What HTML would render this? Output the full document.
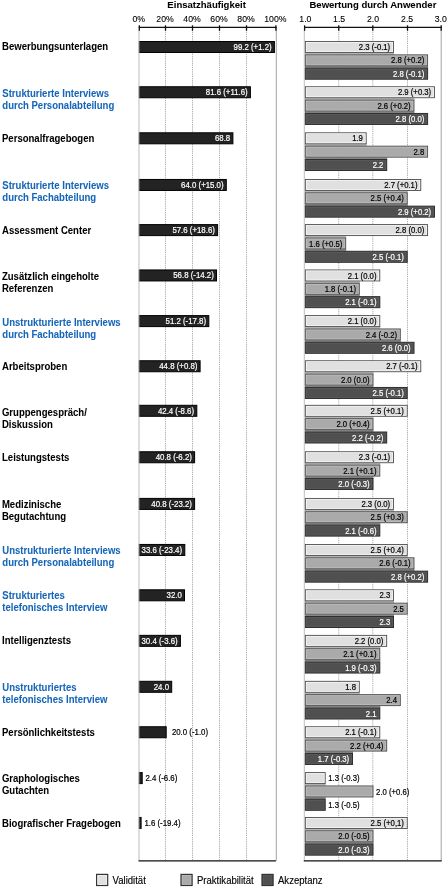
<!DOCTYPE html>
<html lang="de"><head><meta charset="utf-8"><title>Einsatzhäufigkeit und Bewertung</title>
<style>
html,body{margin:0;padding:0;background:#fff}
body{width:448px;height:888px;overflow:hidden}
svg{display:block}
text{font-family:"Liberation Sans",sans-serif}
.t{font-size:10px;font-weight:bold;fill:#000;stroke:#000;stroke-width:.04}
.b{fill:#1566b8;stroke:#1566b8}
.k{font-size:8.7px;fill:#000;stroke:#000;stroke-width:.1}
.v{font-size:9px;fill:#000;stroke:#000;stroke-width:.22}
.w{fill:#fff;stroke:#fff}
.lg{font-size:10.5px;fill:#000;stroke:#000;stroke-width:.15}
.g{stroke:#8e8e8e;stroke-width:.7;stroke-dasharray:1.3 .9;fill:none}
.s{stroke:#909090;stroke-width:.85;fill:none}
.ax{stroke:#111;stroke-width:1.3;fill:none}
.lb{fill:#232323;stroke:#000;stroke-width:1}
.h{fill:none;stroke:#fff;stroke-width:.6}
.g0{fill:#b4b4b4}
.g1{fill:#868686}
.b0{fill:#e0e0e0;stroke:#454545;stroke-width:.85}
.b1{fill:#aaa;stroke:#4c4c4c;stroke-width:.9}
.b2{fill:#505050;stroke:#2e2e2e;stroke-width:1}
</style></head><body>
<svg width="448" height="888" viewBox="0 0 448 888">
<rect width="448" height="888" fill="#fff"/>
<text class="t" style="font-size:9px" transform="translate(206.6 8.2) scale(1.063 1)" text-anchor="middle">Einsatzhäufigkeit</text>
<text class="t" style="font-size:9px" transform="translate(372.9 8.2) scale(1.063 1)" text-anchor="middle">Bewertung durch Anwender</text>
<text class="k" x="138.8" y="21.6" text-anchor="middle">0%</text>
<text class="k" x="165.0" y="21.6" text-anchor="middle">20%</text>
<text class="k" x="192.0" y="21.6" text-anchor="middle">40%</text>
<text class="k" x="219.0" y="21.6" text-anchor="middle">60%</text>
<text class="k" x="246.0" y="21.6" text-anchor="middle">80%</text>
<text class="k" x="275.4" y="21.6" text-anchor="middle">100%</text>
<text class="k" x="305.4" y="21.6" text-anchor="middle">1.0</text>
<text class="k" x="339.1" y="21.6" text-anchor="middle">1.5</text>
<text class="k" x="373.0" y="21.6" text-anchor="middle">2.0</text>
<text class="k" x="407.1" y="21.6" text-anchor="middle">2.5</text>
<text class="k" x="440.7" y="21.6" text-anchor="middle">3.0</text>
<line class="g" x1="165.5" y1="27.3" x2="165.5" y2="860.8"/>
<line class="g" x1="192.5" y1="27.3" x2="192.5" y2="860.8"/>
<line class="g" x1="219.5" y1="27.3" x2="219.5" y2="860.8"/>
<line class="g" x1="246.5" y1="27.3" x2="246.5" y2="860.8"/>
<line class="g" x1="338.75" y1="27.3" x2="338.75" y2="860.8"/>
<line class="g" x1="372.8" y1="27.3" x2="372.8" y2="860.8"/>
<line class="g" x1="407.5" y1="27.3" x2="407.5" y2="860.8"/>
<line class="s" x1="276.29999999999995" y1="27.3" x2="276.29999999999995" y2="860.8"/>
<line class="s" x1="441.2" y1="27.3" x2="441.2" y2="860.8"/>
<text class="t" transform="translate(2.0 50.40) scale(0.957 1)">Bewerbungsunterlagen</text>
<rect class="lb" x="139.3" y="41.50" width="135.1" height="11"/>
<text class="v w" transform="translate(271.7 50.00) scale(0.872 1)" text-anchor="end">99.2 (+1.2)</text>
<rect class="g0" x="305" y="52.70" width="89.0" height="1.95"/>
<rect class="g1" x="305" y="66.05" width="123.1" height="1.95"/>
<rect class="b0" x="305.3" y="41.50" width="88.2" height="11"/>
<rect class="h" style="opacity:0.85" x="306.4" y="42.50" width="86.0" height="9"/>
<text class="v" transform="translate(390.2 50.10) scale(0.86 1)" text-anchor="end">2.3 (-0.1)</text>
<rect class="b1" x="305.3" y="54.85" width="122.3" height="11"/>
<rect class="h" style="opacity:0.3" x="306.4" y="55.85" width="120.1" height="9"/>
<text class="v" transform="translate(424.3 63.45) scale(0.86 1)" text-anchor="end">2.8 (+0.2)</text>
<rect class="b2" x="305.3" y="68.20" width="122.3" height="11"/>
<rect class="h" style="opacity:0.08" x="306.4" y="69.20" width="120.1" height="9"/>
<text class="v w" transform="translate(424.3 76.80) scale(0.86 1)" text-anchor="end">2.8 (-0.1)</text>
<text class="t b" transform="translate(2.3 96.75) scale(0.957 1)">Strukturierte Interviews</text>
<text class="t b" transform="translate(2.3 108.65) scale(0.957 1)">durch Personalabteilung</text>
<rect class="lb" x="139.3" y="86.75" width="111.1" height="11"/>
<text class="v w" transform="translate(247.7 95.25) scale(0.872 1)" text-anchor="end">81.6 (+11.6)</text>
<rect class="g0" x="305" y="97.95" width="109.5" height="1.95"/>
<rect class="g1" x="305" y="111.30" width="109.5" height="1.95"/>
<rect class="b0" x="305.3" y="86.75" width="129.2" height="11"/>
<rect class="h" style="opacity:0.85" x="306.4" y="87.75" width="127.0" height="9"/>
<text class="v" transform="translate(431.2 95.35) scale(0.86 1)" text-anchor="end">2.9 (+0.3)</text>
<rect class="b1" x="305.3" y="100.10" width="108.7" height="11"/>
<rect class="h" style="opacity:0.3" x="306.4" y="101.10" width="106.5" height="9"/>
<text class="v" transform="translate(410.7 108.70) scale(0.86 1)" text-anchor="end">2.6 (+0.2)</text>
<rect class="b2" x="305.3" y="113.45" width="122.3" height="11"/>
<rect class="h" style="opacity:0.08" x="306.4" y="114.45" width="120.1" height="9"/>
<text class="v w" transform="translate(424.3 122.05) scale(0.86 1)" text-anchor="end">2.8 (0.0)</text>
<text class="t" transform="translate(2.0 141.70) scale(0.957 1)">Personalfragebogen</text>
<rect class="lb" x="139.3" y="132.80" width="93.6" height="11"/>
<text class="v w" transform="translate(230.2 141.30) scale(0.872 1)" text-anchor="end">68.8</text>
<rect class="g0" x="305" y="144.00" width="61.7" height="1.95"/>
<rect class="g1" x="305" y="157.35" width="82.2" height="1.95"/>
<rect class="b0" x="305.3" y="132.80" width="60.9" height="11"/>
<rect class="h" style="opacity:0.85" x="306.4" y="133.80" width="58.7" height="9"/>
<text class="v" transform="translate(362.9 141.40) scale(0.86 1)" text-anchor="end">1.9</text>
<rect class="b1" x="305.3" y="146.15" width="122.3" height="11"/>
<rect class="h" style="opacity:0.3" x="306.4" y="147.15" width="120.1" height="9"/>
<text class="v" transform="translate(424.3 154.75) scale(0.86 1)" text-anchor="end">2.8</text>
<rect class="b2" x="305.3" y="159.50" width="81.4" height="11"/>
<rect class="h" style="opacity:0.08" x="306.4" y="160.50" width="79.2" height="9"/>
<text class="v w" transform="translate(383.4 168.10) scale(0.86 1)" text-anchor="end">2.2</text>
<text class="t b" transform="translate(2.3 189.45) scale(0.957 1)">Strukturierte Interviews</text>
<text class="t b" transform="translate(2.3 201.35) scale(0.957 1)">durch Fachabteilung</text>
<rect class="lb" x="139.3" y="179.45" width="87.0" height="11"/>
<text class="v w" transform="translate(223.6 187.95) scale(0.872 1)" text-anchor="end">64.0 (+15.0)</text>
<rect class="g0" x="305" y="190.65" width="102.7" height="1.95"/>
<rect class="g1" x="305" y="204.00" width="102.7" height="1.95"/>
<rect class="b0" x="305.3" y="179.45" width="115.5" height="11"/>
<rect class="h" style="opacity:0.85" x="306.4" y="180.45" width="113.3" height="9"/>
<text class="v" transform="translate(417.5 188.05) scale(0.86 1)" text-anchor="end">2.7 (+0.1)</text>
<rect class="b1" x="305.3" y="192.80" width="101.9" height="11"/>
<rect class="h" style="opacity:0.3" x="306.4" y="193.80" width="99.7" height="9"/>
<text class="v" transform="translate(403.9 201.40) scale(0.86 1)" text-anchor="end">2.5 (+0.4)</text>
<rect class="b2" x="305.3" y="206.15" width="129.2" height="11"/>
<rect class="h" style="opacity:0.08" x="306.4" y="207.15" width="127.0" height="9"/>
<text class="v w" transform="translate(431.2 214.75) scale(0.86 1)" text-anchor="end">2.9 (+0.2)</text>
<text class="t" transform="translate(2.0 233.50) scale(0.957 1)">Assessment Center</text>
<rect class="lb" x="139.3" y="224.60" width="78.3" height="11"/>
<text class="v w" transform="translate(214.9 233.10) scale(0.872 1)" text-anchor="end">57.6 (+18.6)</text>
<rect class="g0" x="305" y="235.80" width="41.2" height="1.95"/>
<rect class="g1" x="305" y="249.15" width="41.2" height="1.95"/>
<rect class="b0" x="305.3" y="224.60" width="122.3" height="11"/>
<rect class="h" style="opacity:0.85" x="306.4" y="225.60" width="120.1" height="9"/>
<text class="v" transform="translate(424.3 233.20) scale(0.86 1)" text-anchor="end">2.8 (0.0)</text>
<rect class="b1" x="305.3" y="237.95" width="40.4" height="11"/>
<rect class="h" style="opacity:0.3" x="306.4" y="238.95" width="38.2" height="9"/>
<text class="v" transform="translate(342.4 246.55) scale(0.86 1)" text-anchor="end">1.6 (+0.5)</text>
<rect class="b2" x="305.3" y="251.30" width="101.9" height="11"/>
<rect class="h" style="opacity:0.08" x="306.4" y="252.30" width="99.7" height="9"/>
<text class="v w" transform="translate(403.9 259.90) scale(0.86 1)" text-anchor="end">2.5 (-0.1)</text>
<text class="t" transform="translate(1.9 279.95) scale(0.957 1)">Zusätzlich eingeholte</text>
<text class="t" transform="translate(1.9 291.85) scale(0.957 1)">Referenzen</text>
<rect class="lb" x="139.3" y="269.95" width="77.2" height="11"/>
<text class="v w" transform="translate(213.8 278.45) scale(0.872 1)" text-anchor="end">56.8 (-14.2)</text>
<rect class="g0" x="305" y="281.15" width="54.8" height="1.95"/>
<rect class="g1" x="305" y="294.50" width="54.8" height="1.95"/>
<rect class="b0" x="305.3" y="269.95" width="74.5" height="11"/>
<rect class="h" style="opacity:0.85" x="306.4" y="270.95" width="72.3" height="9"/>
<text class="v" transform="translate(376.5 278.55) scale(0.86 1)" text-anchor="end">2.1 (0.0)</text>
<rect class="b1" x="305.3" y="283.30" width="54.0" height="11"/>
<rect class="h" style="opacity:0.3" x="306.4" y="284.30" width="51.8" height="9"/>
<text class="v" transform="translate(356.0 291.90) scale(0.86 1)" text-anchor="end">1.8 (-0.1)</text>
<rect class="b2" x="305.3" y="296.65" width="74.5" height="11"/>
<rect class="h" style="opacity:0.08" x="306.4" y="297.65" width="72.3" height="9"/>
<text class="v w" transform="translate(376.5 305.25) scale(0.86 1)" text-anchor="end">2.1 (-0.1)</text>
<text class="t b" transform="translate(2.3 325.60) scale(0.957 1)">Unstrukturierte Interviews</text>
<text class="t b" transform="translate(2.3 337.50) scale(0.957 1)">durch Fachabteilung</text>
<rect class="lb" x="139.3" y="315.60" width="69.5" height="11"/>
<text class="v w" transform="translate(206.1 324.10) scale(0.872 1)" text-anchor="end">51.2 (-17.8)</text>
<rect class="g0" x="305" y="326.80" width="75.3" height="1.95"/>
<rect class="g1" x="305" y="340.15" width="95.8" height="1.95"/>
<rect class="b0" x="305.3" y="315.60" width="74.5" height="11"/>
<rect class="h" style="opacity:0.85" x="306.4" y="316.60" width="72.3" height="9"/>
<text class="v" transform="translate(376.5 324.20) scale(0.86 1)" text-anchor="end">2.1 (0.0)</text>
<rect class="b1" x="305.3" y="328.95" width="95.0" height="11"/>
<rect class="h" style="opacity:0.3" x="306.4" y="329.95" width="92.8" height="9"/>
<text class="v" transform="translate(397.0 337.55) scale(0.86 1)" text-anchor="end">2.4 (-0.2)</text>
<rect class="b2" x="305.3" y="342.30" width="108.7" height="11"/>
<rect class="h" style="opacity:0.08" x="306.4" y="343.30" width="106.5" height="9"/>
<text class="v w" transform="translate(410.7 350.90) scale(0.86 1)" text-anchor="end">2.6 (0.0)</text>
<text class="t" transform="translate(2.0 369.65) scale(0.957 1)">Arbeitsproben</text>
<rect class="lb" x="139.3" y="360.75" width="60.8" height="11"/>
<text class="v w" transform="translate(197.4 369.25) scale(0.872 1)" text-anchor="end">44.8 (+0.8)</text>
<rect class="g0" x="305" y="371.95" width="68.5" height="1.95"/>
<rect class="g1" x="305" y="385.30" width="68.5" height="1.95"/>
<rect class="b0" x="305.3" y="360.75" width="115.5" height="11"/>
<rect class="h" style="opacity:0.85" x="306.4" y="361.75" width="113.3" height="9"/>
<text class="v" transform="translate(417.5 369.35) scale(0.86 1)" text-anchor="end">2.7 (-0.1)</text>
<rect class="b1" x="305.3" y="374.10" width="67.7" height="11"/>
<rect class="h" style="opacity:0.3" x="306.4" y="375.10" width="65.5" height="9"/>
<text class="v" transform="translate(369.7 382.70) scale(0.86 1)" text-anchor="end">2.0 (0.0)</text>
<rect class="b2" x="305.3" y="387.45" width="101.9" height="11"/>
<rect class="h" style="opacity:0.08" x="306.4" y="388.45" width="99.7" height="9"/>
<text class="v w" transform="translate(403.9 396.05) scale(0.86 1)" text-anchor="end">2.5 (-0.1)</text>
<text class="t" transform="translate(1.9 416.10) scale(0.957 1)">Gruppengespräch/</text>
<text class="t" transform="translate(1.9 428.00) scale(0.957 1)">Diskussion</text>
<rect class="lb" x="139.3" y="405.30" width="57.5" height="11"/>
<text class="v w" transform="translate(194.1 413.80) scale(0.872 1)" text-anchor="end">42.4 (-8.6)</text>
<rect class="g0" x="305" y="416.50" width="68.5" height="1.95"/>
<rect class="g1" x="305" y="429.85" width="68.5" height="1.95"/>
<rect class="b0" x="305.3" y="405.30" width="101.9" height="11"/>
<rect class="h" style="opacity:0.85" x="306.4" y="406.30" width="99.7" height="9"/>
<text class="v" transform="translate(403.9 413.90) scale(0.86 1)" text-anchor="end">2.5 (+0.1)</text>
<rect class="b1" x="305.3" y="418.65" width="67.7" height="11"/>
<rect class="h" style="opacity:0.3" x="306.4" y="419.65" width="65.5" height="9"/>
<text class="v" transform="translate(369.7 427.25) scale(0.86 1)" text-anchor="end">2.0 (+0.4)</text>
<rect class="b2" x="305.3" y="432.00" width="81.4" height="11"/>
<rect class="h" style="opacity:0.08" x="306.4" y="433.00" width="79.2" height="9"/>
<text class="v w" transform="translate(383.4 440.60) scale(0.86 1)" text-anchor="end">2.2 (-0.2)</text>
<text class="t" transform="translate(2.0 460.65) scale(0.957 1)">Leistungstests</text>
<rect class="lb" x="139.3" y="451.75" width="55.3" height="11"/>
<text class="v w" transform="translate(191.9 460.25) scale(0.872 1)" text-anchor="end">40.8 (-6.2)</text>
<rect class="g0" x="305" y="462.95" width="75.3" height="1.95"/>
<rect class="g1" x="305" y="476.30" width="68.5" height="1.95"/>
<rect class="b0" x="305.3" y="451.75" width="88.2" height="11"/>
<rect class="h" style="opacity:0.85" x="306.4" y="452.75" width="86.0" height="9"/>
<text class="v" transform="translate(390.2 460.35) scale(0.86 1)" text-anchor="end">2.3 (-0.1)</text>
<rect class="b1" x="305.3" y="465.10" width="74.5" height="11"/>
<rect class="h" style="opacity:0.3" x="306.4" y="466.10" width="72.3" height="9"/>
<text class="v" transform="translate(376.5 473.70) scale(0.86 1)" text-anchor="end">2.1 (+0.1)</text>
<rect class="b2" x="305.3" y="478.45" width="67.7" height="11"/>
<rect class="h" style="opacity:0.08" x="306.4" y="479.45" width="65.5" height="9"/>
<text class="v w" transform="translate(369.7 487.05) scale(0.86 1)" text-anchor="end">2.0 (-0.3)</text>
<text class="t" transform="translate(1.9 508.40) scale(0.957 1)">Medizinische</text>
<text class="t" transform="translate(1.9 520.30) scale(0.957 1)">Begutachtung</text>
<rect class="lb" x="139.3" y="498.40" width="55.3" height="11"/>
<text class="v w" transform="translate(191.9 506.90) scale(0.872 1)" text-anchor="end">40.8 (-23.2)</text>
<rect class="g0" x="305" y="509.60" width="89.0" height="1.95"/>
<rect class="g1" x="305" y="522.95" width="75.3" height="1.95"/>
<rect class="b0" x="305.3" y="498.40" width="88.2" height="11"/>
<rect class="h" style="opacity:0.85" x="306.4" y="499.40" width="86.0" height="9"/>
<text class="v" transform="translate(390.2 507.00) scale(0.86 1)" text-anchor="end">2.3 (0.0)</text>
<rect class="b1" x="305.3" y="511.75" width="101.9" height="11"/>
<rect class="h" style="opacity:0.3" x="306.4" y="512.75" width="99.7" height="9"/>
<text class="v" transform="translate(403.9 520.35) scale(0.86 1)" text-anchor="end">2.5 (+0.3)</text>
<rect class="b2" x="305.3" y="525.10" width="74.5" height="11"/>
<rect class="h" style="opacity:0.08" x="306.4" y="526.10" width="72.3" height="9"/>
<text class="v w" transform="translate(376.5 533.70) scale(0.86 1)" text-anchor="end">2.1 (-0.6)</text>
<text class="t b" transform="translate(2.3 554.45) scale(0.957 1)">Unstrukturierte Interviews</text>
<text class="t b" transform="translate(2.3 566.35) scale(0.957 1)">durch Personalabteilung</text>
<rect class="lb" x="139.3" y="544.45" width="45.5" height="11"/>
<text class="v w" transform="translate(182.1 552.95) scale(0.872 1)" text-anchor="end">33.6 (-23.4)</text>
<rect class="g0" x="305" y="555.65" width="102.7" height="1.95"/>
<rect class="g1" x="305" y="569.00" width="109.5" height="1.95"/>
<rect class="b0" x="305.3" y="544.45" width="101.9" height="11"/>
<rect class="h" style="opacity:0.85" x="306.4" y="545.45" width="99.7" height="9"/>
<text class="v" transform="translate(403.9 553.05) scale(0.86 1)" text-anchor="end">2.5 (+0.4)</text>
<rect class="b1" x="305.3" y="557.80" width="108.7" height="11"/>
<rect class="h" style="opacity:0.3" x="306.4" y="558.80" width="106.5" height="9"/>
<text class="v" transform="translate(410.7 566.40) scale(0.86 1)" text-anchor="end">2.6 (-0.1)</text>
<rect class="b2" x="305.3" y="571.15" width="122.3" height="11"/>
<rect class="h" style="opacity:0.08" x="306.4" y="572.15" width="120.1" height="9"/>
<text class="v w" transform="translate(424.3 579.75) scale(0.86 1)" text-anchor="end">2.8 (+0.2)</text>
<text class="t b" transform="translate(2.3 599.00) scale(0.957 1)">Strukturiertes</text>
<text class="t b" transform="translate(2.3 610.90) scale(0.957 1)">telefonisches Interview</text>
<rect class="lb" x="139.3" y="589.80" width="45.2" height="11"/>
<text class="v w" transform="translate(181.8 598.30) scale(0.872 1)" text-anchor="end">32.0</text>
<rect class="g0" x="305" y="601.00" width="89.0" height="1.95"/>
<rect class="g1" x="305" y="614.35" width="89.0" height="1.95"/>
<rect class="b0" x="305.3" y="589.80" width="88.2" height="11"/>
<rect class="h" style="opacity:0.85" x="306.4" y="590.80" width="86.0" height="9"/>
<text class="v" transform="translate(390.2 598.40) scale(0.86 1)" text-anchor="end">2.3</text>
<rect class="b1" x="305.3" y="603.15" width="101.9" height="11"/>
<rect class="h" style="opacity:0.3" x="306.4" y="604.15" width="99.7" height="9"/>
<text class="v" transform="translate(403.9 611.75) scale(0.86 1)" text-anchor="end">2.5</text>
<rect class="b2" x="305.3" y="616.50" width="88.2" height="11"/>
<rect class="h" style="opacity:0.08" x="306.4" y="617.50" width="86.0" height="9"/>
<text class="v w" transform="translate(390.2 625.10) scale(0.86 1)" text-anchor="end">2.3</text>
<text class="t" transform="translate(2.0 643.75) scale(0.957 1)">Intelligenztests</text>
<rect class="lb" x="139.3" y="635.35" width="41.1" height="11"/>
<text class="v w" transform="translate(177.7 643.85) scale(0.872 1)" text-anchor="end">30.4 (-3.6)</text>
<rect class="g0" x="305" y="646.55" width="75.3" height="1.95"/>
<rect class="g1" x="305" y="659.90" width="75.3" height="1.95"/>
<rect class="b0" x="305.3" y="635.35" width="81.4" height="11"/>
<rect class="h" style="opacity:0.85" x="306.4" y="636.35" width="79.2" height="9"/>
<text class="v" transform="translate(383.4 643.95) scale(0.86 1)" text-anchor="end">2.2 (0.0)</text>
<rect class="b1" x="305.3" y="648.70" width="74.5" height="11"/>
<rect class="h" style="opacity:0.3" x="306.4" y="649.70" width="72.3" height="9"/>
<text class="v" transform="translate(376.5 657.30) scale(0.86 1)" text-anchor="end">2.1 (+0.1)</text>
<rect class="b2" x="305.3" y="662.05" width="74.5" height="11"/>
<rect class="h" style="opacity:0.08" x="306.4" y="663.05" width="72.3" height="9"/>
<text class="v w" transform="translate(376.5 670.65) scale(0.86 1)" text-anchor="end">1.9 (-0.3)</text>
<text class="t b" transform="translate(2.3 690.60) scale(0.957 1)">Unstrukturiertes</text>
<text class="t b" transform="translate(2.3 702.50) scale(0.957 1)">telefonisches Interview</text>
<rect class="lb" x="139.3" y="681.30" width="32.4" height="11"/>
<text class="v w" transform="translate(169.0 689.80) scale(0.872 1)" text-anchor="end">24.0</text>
<rect class="g0" x="305" y="692.50" width="54.8" height="1.95"/>
<rect class="g1" x="305" y="705.85" width="75.3" height="1.95"/>
<rect class="b0" x="305.3" y="681.30" width="54.0" height="11"/>
<rect class="h" style="opacity:0.85" x="306.4" y="682.30" width="51.8" height="9"/>
<text class="v" transform="translate(356.0 689.90) scale(0.86 1)" text-anchor="end">1.8</text>
<rect class="b1" x="305.3" y="694.65" width="95.0" height="11"/>
<rect class="h" style="opacity:0.3" x="306.4" y="695.65" width="92.8" height="9"/>
<text class="v" transform="translate(397.0 703.25) scale(0.86 1)" text-anchor="end">2.4</text>
<rect class="b2" x="305.3" y="708.00" width="74.5" height="11"/>
<rect class="h" style="opacity:0.08" x="306.4" y="709.00" width="72.3" height="9"/>
<text class="v w" transform="translate(376.5 716.60) scale(0.86 1)" text-anchor="end">2.1</text>
<text class="t" transform="translate(2.0 735.65) scale(0.957 1)">Persönlichkeitstests</text>
<rect class="lb" x="139.3" y="726.75" width="26.9" height="11"/>
<text class="v" transform="translate(171.9 735.25) scale(0.872 1)">20.0 (-1.0)</text>
<rect class="g0" x="305" y="737.95" width="75.3" height="1.95"/>
<rect class="g1" x="305" y="751.30" width="48.0" height="1.95"/>
<rect class="b0" x="305.3" y="726.75" width="74.5" height="11"/>
<rect class="h" style="opacity:0.85" x="306.4" y="727.75" width="72.3" height="9"/>
<text class="v" transform="translate(376.5 735.35) scale(0.86 1)" text-anchor="end">2.1 (-0.1)</text>
<rect class="b1" x="305.3" y="740.10" width="81.4" height="11"/>
<rect class="h" style="opacity:0.3" x="306.4" y="741.10" width="79.2" height="9"/>
<text class="v" transform="translate(383.4 748.70) scale(0.86 1)" text-anchor="end">2.2 (+0.4)</text>
<rect class="b2" x="305.3" y="753.45" width="47.2" height="11"/>
<rect class="h" style="opacity:0.08" x="306.4" y="754.45" width="45.0" height="9"/>
<text class="v w" transform="translate(349.2 762.05) scale(0.86 1)" text-anchor="end">1.7 (-0.3)</text>
<text class="t" transform="translate(1.9 782.00) scale(0.957 1)">Graphologisches</text>
<text class="t" transform="translate(1.9 793.90) scale(0.957 1)">Gutachten</text>
<rect class="lb" x="139.3" y="772.60" width="2.9" height="11"/>
<text class="v" transform="translate(145.5 781.10) scale(0.872 1)">2.4 (-6.6)</text>
<rect class="g0" x="305" y="783.80" width="20.7" height="1.95"/>
<rect class="g1" x="305" y="797.15" width="20.7" height="1.95"/>
<rect class="b0" x="305.3" y="772.60" width="19.9" height="11"/>
<rect class="h" style="opacity:0.85" x="306.4" y="773.60" width="17.7" height="9"/>
<text class="v" transform="translate(328.3 781.20) scale(0.86 1)">1.3 (-0.3)</text>
<rect class="b1" x="305.3" y="785.95" width="67.7" height="11"/>
<rect class="h" style="opacity:0.3" x="306.4" y="786.95" width="65.5" height="9"/>
<text class="v" transform="translate(376.1 794.55) scale(0.86 1)">2.0 (+0.6)</text>
<rect class="b2" x="305.3" y="799.30" width="19.9" height="11"/>
<rect class="h" style="opacity:0.08" x="306.4" y="800.30" width="17.7" height="9"/>
<text class="v" transform="translate(328.3 807.90) scale(0.86 1)">1.3 (-0.5)</text>
<text class="t" transform="translate(2.0 827.25) scale(0.957 1)">Biografischer Fragebogen</text>
<rect class="lb" x="139.3" y="817.45" width="1.8" height="11"/>
<text class="v" transform="translate(144.4 825.95) scale(0.872 1)">1.6 (-19.4)</text>
<rect class="g0" x="305" y="828.65" width="68.5" height="1.95"/>
<rect class="g1" x="305" y="842.00" width="68.5" height="1.95"/>
<rect class="b0" x="305.3" y="817.45" width="101.9" height="11"/>
<rect class="h" style="opacity:0.85" x="306.4" y="818.45" width="99.7" height="9"/>
<text class="v" transform="translate(403.9 826.05) scale(0.86 1)" text-anchor="end">2.5 (+0,1)</text>
<rect class="b1" x="305.3" y="830.80" width="67.7" height="11"/>
<rect class="h" style="opacity:0.3" x="306.4" y="831.80" width="65.5" height="9"/>
<text class="v" transform="translate(369.7 839.40) scale(0.86 1)" text-anchor="end">2.0 (-0.5)</text>
<rect class="b2" x="305.3" y="844.15" width="67.7" height="11"/>
<rect class="h" style="opacity:0.08" x="306.4" y="845.15" width="65.5" height="9"/>
<text class="v w" transform="translate(369.7 852.75) scale(0.86 1)" text-anchor="end">2.0 (-0.3)</text>
<line class="s" style="stroke:#b0b0b0" x1="139.0" y1="30" x2="139.0" y2="860.8"/>
<line class="ax" x1="138.70000000000002" y1="27.3" x2="276.5" y2="27.3"/>
<line class="ax" x1="139.3" y1="25.3" x2="139.3" y2="30.8"/>
<line class="ax" x1="165.5" y1="25.3" x2="165.5" y2="30.8"/>
<line class="ax" x1="192.5" y1="25.3" x2="192.5" y2="30.8"/>
<line class="ax" x1="219.5" y1="25.3" x2="219.5" y2="30.8"/>
<line class="ax" x1="246.5" y1="25.3" x2="246.5" y2="30.8"/>
<line class="ax" x1="275.9" y1="25.3" x2="275.9" y2="30.8"/>
<line class="ax" x1="138.5" y1="860.8" x2="275.9" y2="860.8"/>
<line class="s" style="stroke:#b0b0b0" x1="304.3" y1="30" x2="304.3" y2="860.8"/>
<line class="ax" x1="304.0" y1="27.3" x2="441.8" y2="27.3"/>
<line class="ax" x1="304.6" y1="25.3" x2="304.6" y2="30.8"/>
<line class="ax" x1="338.75" y1="25.3" x2="338.75" y2="30.8"/>
<line class="ax" x1="372.8" y1="25.3" x2="372.8" y2="30.8"/>
<line class="ax" x1="407.5" y1="25.3" x2="407.5" y2="30.8"/>
<line class="ax" x1="441.2" y1="25.3" x2="441.2" y2="30.8"/>
<line class="ax" x1="303.8" y1="860.8" x2="441.7" y2="860.8"/>
<rect class="b0" style="stroke:#333;stroke-width:1.2" x="96.6" y="874.4" width="11.1" height="11.1"/>
<rect class="h" style="opacity:0.85" x="97.8" y="875.6" width="8.7" height="8.7"/>
<text class="lg" transform="translate(112.6 883.5) scale(.91 1)">Validität</text>
<rect class="b1" style="stroke:#333;stroke-width:1.2" x="181.0" y="874.4" width="11.1" height="11.1"/>
<rect class="h" style="opacity:0.3" x="182.20000000000002" y="875.6" width="8.7" height="8.7"/>
<text class="lg" transform="translate(197.0 883.5) scale(.91 1)">Praktikabilität</text>
<rect class="b2" style="stroke:#333;stroke-width:1.2" x="262.0" y="874.4" width="11.1" height="11.1"/>
<rect class="h" style="opacity:0.08" x="263.2" y="875.6" width="8.7" height="8.7"/>
<text class="lg" transform="translate(278.0 883.5) scale(.91 1)">Akzeptanz</text>
</svg></body></html>
